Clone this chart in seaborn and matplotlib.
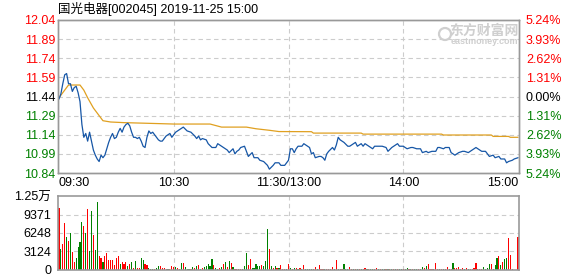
import numpy as np
import pandas as pd
import matplotlib
matplotlib.use("Agg")
import matplotlib.pyplot as plt
from matplotlib.patches import Ellipse
import seaborn as sns

# ---------------- data ----------------
title_text = "国光电器[002045] 2019-11-25 15:00"
prev_close = 11.44
price_ticks = [12.04, 11.89, 11.74, 11.59, 11.44, 11.29, 11.14, 10.99, 10.84]
vol_ticks = [0, 3124, 6248, 9371, 12495]
vol_tick_labels = ["0", "3124", "6248", "9371", "1.25万"]
time_ticks = [0, 60, 120, 180, 240]
time_labels = ["09:30", "10:30", "11:30/13:00", "14:00", "15:00"]

price_min = list(range(0, 62)) + [
    62, 64, 65, 67, 69, 71, 72, 73, 74, 75, 77, 78, 80, 82, 83, 85, 86, 88, 89, 91,
    92, 93, 94, 95, 97, 98, 99, 101, 102, 104, 105, 107, 109, 110, 112, 113, 115, 116,
    118, 119, 120, 121, 122, 123, 124, 125, 127, 128, 129, 131, 132, 133, 134, 136,
    137, 138, 139, 140, 141, 143, 144, 145, 146, 147, 149, 151, 152, 154, 155, 156,
    158, 159, 160, 162, 164, 165, 167, 169, 171, 172, 174, 175, 177, 178, 180, 182,
    184, 185, 187, 189, 190, 192, 193, 195, 197, 198, 199, 201, 202, 204, 205, 207,
    209, 211, 212, 214, 215, 217, 218, 219, 221, 223, 224, 225, 227, 228, 230, 231,
    233, 234, 235, 237, 238, 240]
price_val = [
    11.42, 11.46, 11.54, 11.61, 11.62, 11.54, 11.54, 11.48, 11.51, 11.52,
    11.47, 11.40, 11.22, 11.12, 11.15, 11.09, 11.16, 11.09, 11.02, 10.98,
    10.95, 10.93, 10.98, 10.96, 10.98, 11.03, 11.08, 11.12, 11.15, 11.11,
    11.12, 11.16, 11.19, 11.16, 11.20, 11.22, 11.23, 11.21, 11.16, 11.12,
    11.12, 11.11, 11.12, 11.09, 11.05, 11.04, 11.12, 11.17, 11.15, 11.16,
    11.14, 11.12, 11.10, 11.09, 11.09, 11.11, 11.13, 11.14, 11.15, 11.12,
    11.14, 11.16,
    11.17, 11.19, 11.20, 11.17, 11.16, 11.13, 11.11, 11.13, 11.10, 11.11,
    11.10, 11.07, 11.04, 11.04, 11.07, 11.05, 11.04, 11.02, 11.00, 11.03,
    10.99, 11.01, 11.02, 11.04, 11.05, 11.01, 10.97, 11.00, 10.96, 10.96,
    10.94, 10.93, 10.90, 10.87, 10.90, 10.92, 10.92, 10.90, 10.90, 10.92,
    10.94, 11.03, 11.03, 11.00, 11.03, 11.05, 11.05, 11.07, 11.06, 11.04,
    10.99, 11.00, 10.96, 10.97, 10.97, 10.96, 10.94, 10.99, 11.01, 11.04,
    11.02, 11.06, 11.12, 11.10, 11.08, 11.05, 11.05, 11.07, 11.08, 11.05,
    11.07, 11.05, 11.07, 11.05, 11.03, 11.05, 11.05, 11.05, 11.04, 11.01,
    11.04, 11.05, 11.07, 11.05, 11.05, 11.03, 11.04, 11.04, 11.03, 11.03,
    11.00, 11.01, 11.00, 11.01, 11.01, 11.04, 11.04, 11.03, 11.04, 11.04,
    11.00, 10.98, 11.00, 11.01, 11.01, 11.00, 11.01, 11.03, 11.04, 11.03,
    11.01, 11.01, 10.99, 10.97, 10.98, 10.96, 10.97, 10.95, 10.95, 10.92,
    10.93, 10.94, 10.95, 10.96]

avg_min = [0, 2, 5, 11, 13, 15, 18, 20, 22, 23, 27, 34, 46, 60, 79, 85, 98, 103,
           110, 115, 132, 133, 158, 159, 200, 201, 226, 227, 235, 236, 240]
avg_val = [11.43, 11.47, 11.53, 11.53, 11.49, 11.43, 11.35, 11.31, 11.27, 11.25,
           11.24, 11.235, 11.23, 11.224, 11.224, 11.20, 11.20, 11.187, 11.175, 11.165,
           11.164, 11.153, 11.153, 11.145, 11.145, 11.138, 11.138, 11.127, 11.127,
           11.12, 11.12]

# per-minute volume (minutes 0..240)
volume_am1 = [
    10470, 3550, 4390, 7940, 5520, 4900, 6250, 3040, 1350, 2030,
    3880, 4730, 8110, 7430, 6250, 10300, 3270, 9970, 5910, 3380,
    11490, 2360, 2030, 1350, 2360, 2870, 1690, 1690, 1690, 840,
    2030, 2360, 1010, 1350, 1010, 1350, 680, 1010, 1350, 340,
    1520, 340, 390, 2030, 1690, 1010, 790, 340]
volume_am2 = [
    230, 170, 170, 340, 680, 680, 340, 340, 230, 230,
    230, 680, 510, 510, 340, 230, 1180, 1180, 510, 230,
    170, 170, 510, 340, 680, 840, 230, 340, 510, 680,
    1010, 680, 1860, 840, 340, 170, 340, 510, 1010, 1350,
    510, 1520, 1180, 510, 170, 170, 170, 170, 170, 680,
    2870, 840, 1860, 340, 340, 1010, 680, 680, 840, 680,
    1520, 6920, 3550, 680, 340, 680, 340, 340, 840, 170,
    170, 170, 1010, 340, 170, 340, 340, 170, 340, 170,
    840, 170, 170]
volume_pm = [
    170, 170, 170, 510, 230, 840, 170, 170, 170, 170,
    170, 170, 510, 170, 1690, 170, 170, 170, 1010, 170,
    170, 510, 170, 170, 170, 170, 170, 170, 170, 340,
    170, 170, 170, 170, 170, 340, 170, 170, 170, 170,
    170, 170, 170, 170, 170, 170, 170, 170, 170, 170,
    170, 340, 170, 170, 170, 170, 170, 170, 170, 510,
    340, 680, 1010, 170, 170, 170, 1180, 170, 170, 170,
    170, 170, 510, 170, 170, 1180, 340, 340, 510, 170,
    340, 170, 340, 170, 170, 170, 340, 1180, 170, 170,
    170, 510, 170, 340, 1010, 1010, 170, 840, 2030, 2360,
    840, 1350, 1860, 2030, 5400, 2530, 170, 0, 0, 5570]
direction_am1 = "rgrrgrgrrg" "gggrgrggrg" "grrgrrrrrr" "rrgrrrgrgr" "grrggrrg"
direction_am2 = ("ggrggrrrrg" "rrrgrrgrgg" "grgrgrgrgg" "gggrggrgrg" "rgrgrrrrgg"
                 "grrgggggrg" "ggrgrgrgrr" "rgrgrgrgrg" "rgg")
direction_pm = ("ggrrgrrrgr" "rrrgrggrgg" "grrgrgrgrr" "grggrrgrgg" "rgrgrgrggr"
                "ggrgrggrgg" "rgrrrgrrgr" "grrgrgrrrr" "rgrgrrrrgr" "rggggrgggr"
                "grggrrrrrr")

volume = volume_am1 + volume_am2 + volume_pm
direction = list(direction_am1 + direction_am2 + direction_pm)
minutes = list(range(len(volume)))

# ---------------- colours / style ----------------
RED = "#ff0000"
GREEN = "#008000"
BLACK = "#000000"
GRID = "#cccccc"
SPINE = "#999999"
WATERMARK = "#cfcfcf"

sns.set_theme(style="white")
plt.rcParams["font.family"] = ["Liberation Sans", "Noto Sans CJK SC", "DejaVu Sans"]

fig = plt.figure(figsize=(5.78, 2.76), dpi=100, facecolor="white")
ax = fig.add_axes([58 / 578, 1 - 173 / 276, 461 / 578, 153 / 276])
ax2 = fig.add_axes([58 / 578, 1 - 270 / 276, 461 / 578, 74 / 276])

XL = (-0.5, 240.5)
dash = (0, (4, 3))

# ---- price panel ----
for t in price_ticks[1:-1]:
    ax.axhline(t, color=GRID, lw=0.8, ls=dash, zorder=0.5)
for t in time_ticks[1:-1]:
    ax.axvline(t, color=GRID, lw=0.8, ls=dash, zorder=0.5)

sns.lineplot(x=avg_min, y=avg_val, ax=ax, color="#e0a020", lw=0.9,
             estimator=None, sort=False, zorder=2)
sns.lineplot(x=price_min, y=price_val, ax=ax, color="#1656a6", lw=0.9,
             estimator=None, sort=False, zorder=3)

ax.set_xlim(*XL)
ax.set_ylim(price_ticks[-1], price_ticks[0])


def tick_color(t):
    if abs(t - prev_close) < 1e-6:
        return BLACK
    return RED if t > prev_close else GREEN


ax.set_yticks(price_ticks)
ax.set_yticklabels([f"{t:.2f}" for t in price_ticks])
ax.set_xticks(time_ticks)
ax.set_xticklabels(time_labels)
xl = ax.get_xticklabels()
xl[0].set_horizontalalignment("left")
xl[-1].set_horizontalalignment("right")
ax.tick_params(axis="both", length=0, labelsize=9, colors=BLACK)
ax.tick_params(axis="y", pad=2)
ax.tick_params(axis="x", pad=3)
for lab, t in zip(ax.get_yticklabels(), price_ticks):
    lab.set_color(tick_color(t))
ax.set_xlabel("")
ax.set_ylabel("")

axr = ax.twinx()
axr.set_ylim(price_ticks[-1], price_ticks[0])
axr.set_yticks(price_ticks)
axr.set_yticklabels([f"{abs(t - prev_close) / prev_close * 100:.2f}%" for t in price_ticks])
axr.tick_params(axis="y", length=0, labelsize=9, pad=5)
for lab, t in zip(axr.get_yticklabels(), price_ticks):
    lab.set_color(tick_color(t))
axr.grid(False)

for a in (ax, axr):
    for s in a.spines.values():
        s.set_color(SPINE)
        s.set_linewidth(1.0)
        s.set_visible(True)

# ---- volume panel ----
vdf = pd.DataFrame({"minute": minutes, "vol": volume, "dir": direction})
for t in vol_ticks[1:-1]:
    ax2.axhline(t, color=GRID, lw=0.8, ls=dash, zorder=0.5)
for t in time_ticks[1:-1]:
    ax2.axvline(t, color=GRID, lw=0.8, ls=dash, zorder=0.5)
sns.barplot(data=vdf, x="minute", y="vol", hue="dir",
            palette={"r": RED, "g": GREEN}, native_scale=True, dodge=False,
            width=0.6, errorbar=None, legend=False, saturation=1,
            linewidth=0, ax=ax2, zorder=2)
for p in ax2.patches:
    p.set_antialiased(False)
ax2.set_xlim(*XL)
ax2.set_ylim(vol_ticks[0], vol_ticks[-1])
ax2.set_yticks(vol_ticks)
ax2.set_yticklabels(vol_tick_labels)
ax2.set_xticks([])
ax2.tick_params(axis="y", length=0, labelsize=9, pad=5, colors=BLACK)
ax2.set_xlabel("")
ax2.set_ylabel("")
for s in ax2.spines.values():
    s.set_color(SPINE)
    s.set_linewidth(1.2)
    s.set_visible(True)

# ---- texts ----
fig.text(58 / 578, 1 - 9 / 276, title_text, fontsize=9, color=BLACK,
         ha="left", va="center",
         family=["Liberation Sans", "Noto Sans CJK SC"])
fig.add_artist(Ellipse((445 / 578, 1 - 34 / 276), 12 / 578, 12 / 276,
                       transform=fig.transFigure, fill=False,
                       edgecolor=WATERMARK, lw=1.6, zorder=10))
fig.text(484 / 578, 1 - 31 / 276, "东方财富网", fontsize=10, color=WATERMARK,
         ha="center", va="center", fontweight="bold",
         family=["Noto Sans CJK SC"], zorder=10)
fig.text(484 / 578, 1 - 42 / 276, "eastmoney.com", fontsize=6.5, color=WATERMARK,
         ha="center", va="center", fontweight="bold", zorder=10)

fig.savefig("out.png", dpi=100, facecolor="white")
